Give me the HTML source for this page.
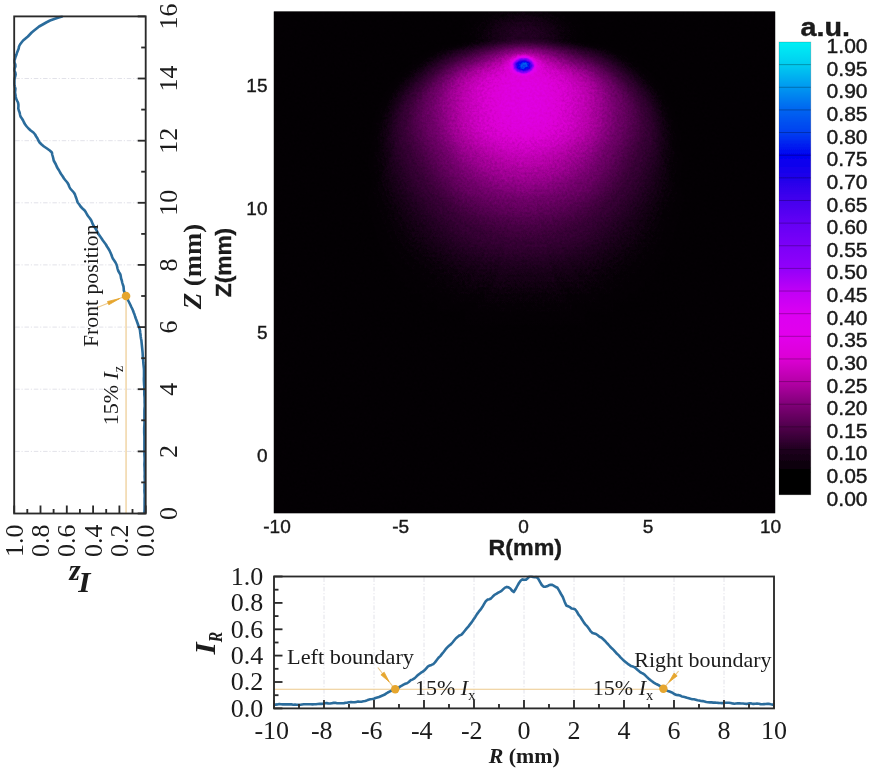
<!DOCTYPE html>
<html lang="en"><head><meta charset="utf-8"><title>Figure</title>
<style>
html,body{margin:0;padding:0;background:#fff;}
body{width:874px;height:772px;overflow:hidden;}
svg{display:block;}
.ts{font-family:"Liberation Serif","Times New Roman",serif;fill:#1a1a1a;}
.ss{font-family:"Liberation Sans",Arial,sans-serif;fill:#1a1a1a;stroke:#1a1a1a;stroke-width:0.4px;}
</style></head><body>
<svg width="874" height="772" viewBox="0 0 874 772">
<defs>
<clipPath id="hc"><rect x="273.8" y="11.4" width="501.40000000000003" height="501.9"/></clipPath>
<clipPath id="lc"><rect x="13.2" y="15.399999999999999" width="133.5" height="499.1"/></clipPath>
<clipPath id="bc"><rect x="273.0" y="575.5" width="502.0" height="133.89999999999998"/></clipPath>
<filter id="b30" x="-50%" y="-50%" width="200%" height="200%"><feGaussianBlur stdDeviation="30"/></filter>
<filter id="b18" x="-50%" y="-50%" width="200%" height="200%"><feGaussianBlur stdDeviation="18"/></filter>
<filter id="b2" x="-50%" y="-50%" width="200%" height="200%"><feGaussianBlur stdDeviation="2.1"/></filter>
<filter id="soft" filterUnits="userSpaceOnUse" x="0" y="0" width="874" height="772"><feGaussianBlur stdDeviation="0.4"/></filter>
<linearGradient id="cb" x1="0" y1="1" x2="0" y2="0">

<stop offset="0.0" stop-color="#000000"/>
<stop offset="0.05" stop-color="#020002"/>
<stop offset="0.1" stop-color="#200020"/>
<stop offset="0.15" stop-color="#50004c"/>
<stop offset="0.2" stop-color="#800078"/>
<stop offset="0.25" stop-color="#b600a8"/>
<stop offset="0.3" stop-color="#dc00d4"/>
<stop offset="0.35" stop-color="#e200ec"/>
<stop offset="0.4" stop-color="#dc00f2"/>
<stop offset="0.45" stop-color="#c000f6"/>
<stop offset="0.5" stop-color="#9200fa"/>
<stop offset="0.55" stop-color="#7c00f8"/>
<stop offset="0.6" stop-color="#6400f5"/>
<stop offset="0.65" stop-color="#4400ee"/>
<stop offset="0.7" stop-color="#2000ea"/>
<stop offset="0.75" stop-color="#0202f0"/>
<stop offset="0.8" stop-color="#0040f0"/>
<stop offset="0.85" stop-color="#0064f0"/>
<stop offset="0.9" stop-color="#0098f0"/>
<stop offset="0.95" stop-color="#00cdf0"/>
<stop offset="1.0" stop-color="#00f0f5"/>
</linearGradient>
</defs>

<rect width="874" height="772" fill="#fff"/>

<g clip-path="url(#hc)">
<rect x="273.8" y="11.4" width="501.40000000000003" height="501.9" fill="#000"/>
<defs><linearGradient id="gxA" gradientUnits="userSpaceOnUse" x1="265.0" y1="0" x2="785.0" y2="0"><stop offset="0" stop-color="#fff" stop-opacity="0"/><stop offset="0.1500" stop-color="#fff" stop-opacity="0.000"/><stop offset="0.1769" stop-color="#fff" stop-opacity="0.020"/><stop offset="0.2019" stop-color="#fff" stop-opacity="0.055"/><stop offset="0.2327" stop-color="#fff" stop-opacity="0.125"/><stop offset="0.2692" stop-color="#fff" stop-opacity="0.250"/><stop offset="0.3077" stop-color="#fff" stop-opacity="0.400"/><stop offset="0.3462" stop-color="#fff" stop-opacity="0.570"/><stop offset="0.3808" stop-color="#fff" stop-opacity="0.735"/><stop offset="0.4231" stop-color="#fff" stop-opacity="0.880"/><stop offset="0.4615" stop-color="#fff" stop-opacity="0.970"/><stop offset="0.5000" stop-color="#fff" stop-opacity="1.000"/><stop offset="0.5385" stop-color="#fff" stop-opacity="0.970"/><stop offset="0.5769" stop-color="#fff" stop-opacity="0.880"/><stop offset="0.6192" stop-color="#fff" stop-opacity="0.735"/><stop offset="0.6538" stop-color="#fff" stop-opacity="0.570"/><stop offset="0.6923" stop-color="#fff" stop-opacity="0.400"/><stop offset="0.7308" stop-color="#fff" stop-opacity="0.250"/><stop offset="0.7673" stop-color="#fff" stop-opacity="0.125"/><stop offset="0.7981" stop-color="#fff" stop-opacity="0.055"/><stop offset="0.8231" stop-color="#fff" stop-opacity="0.020"/><stop offset="0.8500" stop-color="#fff" stop-opacity="0.000"/><stop offset="1" stop-color="#fff" stop-opacity="0"/></linearGradient><linearGradient id="gyA" gradientUnits="userSpaceOnUse" x1="0" y1="11.4" x2="0" y2="513.3"><stop offset="-0.0008" stop-color="#fff" stop-opacity="0.0000"/><stop offset="0.0510" stop-color="#fff" stop-opacity="0.0000"/><stop offset="0.0610" stop-color="#fff" stop-opacity="0.0858"/><stop offset="0.0689" stop-color="#fff" stop-opacity="0.1878"/><stop offset="0.0789" stop-color="#fff" stop-opacity="0.2682"/><stop offset="0.0889" stop-color="#fff" stop-opacity="0.2811"/><stop offset="0.1905" stop-color="#fff" stop-opacity="0.2790"/><stop offset="0.2263" stop-color="#fff" stop-opacity="0.2736"/><stop offset="0.2443" stop-color="#fff" stop-opacity="0.2629"/><stop offset="0.2961" stop-color="#fff" stop-opacity="0.2092"/><stop offset="0.3499" stop-color="#fff" stop-opacity="0.1556"/><stop offset="0.3817" stop-color="#fff" stop-opacity="0.1212"/><stop offset="0.4196" stop-color="#fff" stop-opacity="0.0880"/><stop offset="0.4595" stop-color="#fff" stop-opacity="0.0633"/><stop offset="0.4873" stop-color="#fff" stop-opacity="0.0461"/><stop offset="0.5152" stop-color="#fff" stop-opacity="0.0322"/><stop offset="0.5411" stop-color="#fff" stop-opacity="0.0247"/><stop offset="0.5690" stop-color="#fff" stop-opacity="0.0161"/><stop offset="0.6049" stop-color="#fff" stop-opacity="0.0086"/><stop offset="0.6447" stop-color="#fff" stop-opacity="0.0032"/><stop offset="0.6786" stop-color="#fff" stop-opacity="0.0000"/><stop offset="1.0000" stop-color="#fff" stop-opacity="0.0000"/></linearGradient><mask id="myA" maskUnits="userSpaceOnUse" x="273.8" y="11.4" width="501.40000000000003" height="501.9"><rect x="273.8" y="11.4" width="501.40000000000003" height="501.9" fill="url(#gyA)"/></mask><linearGradient id="gxB" gradientUnits="userSpaceOnUse" x1="265.0" y1="0" x2="785.0" y2="0"><stop offset="0" stop-color="#fff" stop-opacity="0"/><stop offset="0.1442" stop-color="#fff" stop-opacity="0.000"/><stop offset="0.1577" stop-color="#fff" stop-opacity="0.010"/><stop offset="0.1769" stop-color="#fff" stop-opacity="0.050"/><stop offset="0.2019" stop-color="#fff" stop-opacity="0.120"/><stop offset="0.2308" stop-color="#fff" stop-opacity="0.200"/><stop offset="0.2692" stop-color="#fff" stop-opacity="0.306"/><stop offset="0.3269" stop-color="#fff" stop-opacity="0.514"/><stop offset="0.3846" stop-color="#fff" stop-opacity="0.744"/><stop offset="0.4423" stop-color="#fff" stop-opacity="0.929"/><stop offset="0.5000" stop-color="#fff" stop-opacity="1.000"/><stop offset="0.5577" stop-color="#fff" stop-opacity="0.929"/><stop offset="0.6154" stop-color="#fff" stop-opacity="0.744"/><stop offset="0.6731" stop-color="#fff" stop-opacity="0.514"/><stop offset="0.7308" stop-color="#fff" stop-opacity="0.306"/><stop offset="0.7692" stop-color="#fff" stop-opacity="0.200"/><stop offset="0.7981" stop-color="#fff" stop-opacity="0.120"/><stop offset="0.8231" stop-color="#fff" stop-opacity="0.050"/><stop offset="0.8423" stop-color="#fff" stop-opacity="0.010"/><stop offset="0.8558" stop-color="#fff" stop-opacity="0.000"/><stop offset="1" stop-color="#fff" stop-opacity="0"/></linearGradient><linearGradient id="gyB" gradientUnits="userSpaceOnUse" x1="0" y1="11.4" x2="0" y2="513.3"><stop offset="-0.0008" stop-color="#fff" stop-opacity="0.0000"/><stop offset="0.0650" stop-color="#fff" stop-opacity="0.0000"/><stop offset="0.0689" stop-color="#fff" stop-opacity="0.0000"/><stop offset="0.0968" stop-color="#fff" stop-opacity="0.0429"/><stop offset="0.1367" stop-color="#fff" stop-opacity="0.0751"/><stop offset="0.1905" stop-color="#fff" stop-opacity="0.0912"/><stop offset="0.2443" stop-color="#fff" stop-opacity="0.1019"/><stop offset="0.2961" stop-color="#fff" stop-opacity="0.1019"/><stop offset="0.3499" stop-color="#fff" stop-opacity="0.0858"/><stop offset="0.4057" stop-color="#fff" stop-opacity="0.0665"/><stop offset="0.4595" stop-color="#fff" stop-opacity="0.0472"/><stop offset="0.4953" stop-color="#fff" stop-opacity="0.0322"/><stop offset="0.5292" stop-color="#fff" stop-opacity="0.0215"/><stop offset="0.5690" stop-color="#fff" stop-opacity="0.0118"/><stop offset="0.6049" stop-color="#fff" stop-opacity="0.0054"/><stop offset="0.6447" stop-color="#fff" stop-opacity="0.0021"/><stop offset="0.6746" stop-color="#fff" stop-opacity="0.0000"/><stop offset="1.0000" stop-color="#fff" stop-opacity="0.0000"/></linearGradient><mask id="myB" maskUnits="userSpaceOnUse" x="273.8" y="11.4" width="501.40000000000003" height="501.9"><rect x="273.8" y="11.4" width="501.40000000000003" height="501.9" fill="url(#gyB)"/></mask><filter id="bd" filterUnits="userSpaceOnUse" x="193.8" y="-68.6" width="661.4000000000001" height="661.9"><feGaussianBlur stdDeviation="14"/></filter><mask id="dome" maskUnits="userSpaceOnUse" x="273.8" y="11.4" width="501.40000000000003" height="501.9"><g filter="url(#bd)"><path d="M715.5,600 L700.5,230 L685.5,170 L675.5,128 L655.5,97 L621.5,74 L595.5,63 L565.5,58 L525.5,48 L485.5,58 L455.5,63 L429.5,74 L395.5,97 L375.5,128 L365.5,170 L350.5,230 L335.5,600 Z" fill="#fff"/></g></mask><filter id="bt" filterUnits="userSpaceOnUse" x="193.8" y="-68.6" width="661.4000000000001" height="661.9"><feGaussianBlur stdDeviation="18"/></filter><mask id="taper" maskUnits="userSpaceOnUse" x="273.8" y="11.4" width="501.40000000000003" height="501.9"><g filter="url(#bt)"><polygon points="715.0,-40 703.0,150 683.0,190 665.0,215 650.0,247 620.0,277 587.0,300 555.0,315 525.0,322 495.0,315 463.0,300 430.0,277 400.0,247 385.0,215 367.0,190 347.0,150 335.0,-40" fill="#fff"/></g></mask><radialGradient id="halo" cx="0.5" cy="0.5" r="0.5"><stop offset="0.000" stop-color="#fff" stop-opacity="0.100"/><stop offset="0.100" stop-color="#fff" stop-opacity="0.097"/><stop offset="0.200" stop-color="#fff" stop-opacity="0.090"/><stop offset="0.300" stop-color="#fff" stop-opacity="0.079"/><stop offset="0.400" stop-color="#fff" stop-opacity="0.065"/><stop offset="0.500" stop-color="#fff" stop-opacity="0.050"/><stop offset="0.600" stop-color="#fff" stop-opacity="0.036"/><stop offset="0.700" stop-color="#fff" stop-opacity="0.024"/><stop offset="0.800" stop-color="#fff" stop-opacity="0.014"/><stop offset="0.900" stop-color="#fff" stop-opacity="0.006"/><stop offset="1.000" stop-color="#fff" stop-opacity="0.000"/></radialGradient><radialGradient id="topg" cx="0.5" cy="0.5" r="0.5"><stop offset="0.000" stop-color="#fff" stop-opacity="0.040"/><stop offset="0.100" stop-color="#fff" stop-opacity="0.039"/><stop offset="0.200" stop-color="#fff" stop-opacity="0.036"/><stop offset="0.300" stop-color="#fff" stop-opacity="0.031"/><stop offset="0.400" stop-color="#fff" stop-opacity="0.026"/><stop offset="0.500" stop-color="#fff" stop-opacity="0.020"/><stop offset="0.600" stop-color="#fff" stop-opacity="0.014"/><stop offset="0.700" stop-color="#fff" stop-opacity="0.010"/><stop offset="0.800" stop-color="#fff" stop-opacity="0.005"/><stop offset="0.900" stop-color="#fff" stop-opacity="0.002"/><stop offset="1.000" stop-color="#fff" stop-opacity="0.000"/></radialGradient><filter id="cmap" filterUnits="userSpaceOnUse" x="269.8" y="7.4" width="509.40000000000003" height="509.9" color-interpolation-filters="sRGB"><feTurbulence type="fractalNoise" baseFrequency="0.4" numOctaves="2" seed="7" result="n"/><feColorMatrix in="n" type="matrix" values="1 0 0 0 0  1 0 0 0 0  1 0 0 0 0  0 0 0 0 1" result="ng"/><feComposite in="SourceGraphic" in2="ng" operator="arithmetic" k1="0.2" k2="0.9" k3="0" k4="0" result="m"/><feComponentTransfer in="m" result="cm"><feFuncR type="table" tableValues="0.000 0.000 0.000 0.020 0.125 0.220 0.314 0.408 0.502 0.608 0.714 0.788 0.863 0.875 0.886 0.875 0.863 0.808 0.753 0.663 0.573 0.529 0.486 0.439 0.392 0.329 0.267 0.196 0.125 0.067 0.008 0.004 0.000 0.000 0.000 0.000 0.000 0.000 0.000 0.000 0.000"/><feFuncG type="table" tableValues="0.000 0.000 0.000 0.000 0.000 0.000 0.000 0.000 0.000 0.000 0.000 0.000 0.000 0.000 0.000 0.000 0.000 0.000 0.000 0.000 0.000 0.000 0.000 0.000 0.000 0.000 0.000 0.000 0.000 0.004 0.008 0.129 0.251 0.322 0.392 0.494 0.596 0.700 0.804 0.873 0.941"/><feFuncB type="table" tableValues="0.000 0.000 0.000 0.020 0.125 0.212 0.298 0.384 0.471 0.565 0.659 0.745 0.831 0.878 0.925 0.937 0.949 0.957 0.965 0.973 0.980 0.976 0.973 0.967 0.961 0.947 0.933 0.925 0.918 0.929 0.941 0.941 0.941 0.941 0.941 0.941 0.941 0.941 0.941 0.951 0.961"/></feComponentTransfer><feGaussianBlur in="cm" stdDeviation="0.7"/></filter></defs><g filter="url(#cmap)"><rect x="265.8" y="3.4000000000000004" width="517.4000000000001" height="517.9" fill="rgb(17,17,17)"/><g><g mask="url(#dome)"><rect x="273.8" y="11.4" width="501.40000000000003" height="501.9" fill="url(#gxA)" mask="url(#myA)"/></g></g><ellipse cx="523.5" cy="36" rx="70" ry="40" fill="url(#topg)"/><ellipse cx="523.5" cy="64" rx="24" ry="13" fill="url(#halo)"/><g filter="url(#b2)"><ellipse cx="523.5" cy="65.6" rx="10" ry="7" fill="#fff" fill-opacity="0.6"/><ellipse cx="523.8" cy="65.4" rx="4.8" ry="3.4" fill="#fff" fill-opacity="0.42"/></g></g>
</g>

<g filter="url(#soft)">
<text class="ss" x="267.5" y="92.1" font-size="19" text-anchor="end">15</text>
<text class="ss" x="267.5" y="215.4" font-size="19" text-anchor="end">10</text>
<text class="ss" x="267.5" y="338.7" font-size="19" text-anchor="end">5</text>
<text class="ss" x="267.5" y="461.9" font-size="19" text-anchor="end">0</text>
<text class="ss" x="277.0" y="533" font-size="19" text-anchor="middle">-10</text>
<text class="ss" x="400.6" y="533" font-size="19" text-anchor="middle">-5</text>
<text class="ss" x="523.6" y="533" font-size="19" text-anchor="middle">0</text>
<text class="ss" x="648.0" y="533" font-size="19" text-anchor="middle">5</text>
<text class="ss" x="770.5" y="533" font-size="19" text-anchor="middle">10</text>
<text class="ss" x="525.3" y="554.9" font-size="22.5" font-weight="bold" text-anchor="middle" textLength="73.5" lengthAdjust="spacingAndGlyphs">R(mm)</text>
<text class="ss" transform="translate(230.7,262.5) rotate(-90)" font-size="22.7" font-weight="bold" text-anchor="middle">Z(mm)</text>
<rect x="779.0" y="42.0" width="31.799999999999955" height="452.8" fill="url(#cb)"/>
<line x1="779.0" x2="810.8" y1="472.16" y2="472.16" stroke="#000" stroke-opacity="0.28" stroke-width="1"/>
<line x1="779.0" x2="810.8" y1="449.52" y2="449.52" stroke="#000" stroke-opacity="0.28" stroke-width="1"/>
<line x1="779.0" x2="810.8" y1="426.88" y2="426.88" stroke="#000" stroke-opacity="0.28" stroke-width="1"/>
<line x1="779.0" x2="810.8" y1="404.24" y2="404.24" stroke="#000" stroke-opacity="0.28" stroke-width="1"/>
<line x1="779.0" x2="810.8" y1="381.60" y2="381.60" stroke="#000" stroke-opacity="0.28" stroke-width="1"/>
<line x1="779.0" x2="810.8" y1="358.96" y2="358.96" stroke="#000" stroke-opacity="0.28" stroke-width="1"/>
<line x1="779.0" x2="810.8" y1="336.32" y2="336.32" stroke="#000" stroke-opacity="0.28" stroke-width="1"/>
<line x1="779.0" x2="810.8" y1="313.68" y2="313.68" stroke="#000" stroke-opacity="0.28" stroke-width="1"/>
<line x1="779.0" x2="810.8" y1="291.04" y2="291.04" stroke="#000" stroke-opacity="0.28" stroke-width="1"/>
<line x1="779.0" x2="810.8" y1="268.40" y2="268.40" stroke="#000" stroke-opacity="0.28" stroke-width="1"/>
<line x1="779.0" x2="810.8" y1="245.76" y2="245.76" stroke="#000" stroke-opacity="0.28" stroke-width="1"/>
<line x1="779.0" x2="810.8" y1="223.12" y2="223.12" stroke="#000" stroke-opacity="0.28" stroke-width="1"/>
<line x1="779.0" x2="810.8" y1="200.48" y2="200.48" stroke="#000" stroke-opacity="0.28" stroke-width="1"/>
<line x1="779.0" x2="810.8" y1="177.84" y2="177.84" stroke="#000" stroke-opacity="0.28" stroke-width="1"/>
<line x1="779.0" x2="810.8" y1="155.20" y2="155.20" stroke="#000" stroke-opacity="0.28" stroke-width="1"/>
<line x1="779.0" x2="810.8" y1="132.56" y2="132.56" stroke="#000" stroke-opacity="0.28" stroke-width="1"/>
<line x1="779.0" x2="810.8" y1="109.92" y2="109.92" stroke="#000" stroke-opacity="0.28" stroke-width="1"/>
<line x1="779.0" x2="810.8" y1="87.28" y2="87.28" stroke="#000" stroke-opacity="0.28" stroke-width="1"/>
<line x1="779.0" x2="810.8" y1="64.64" y2="64.64" stroke="#000" stroke-opacity="0.28" stroke-width="1"/>
<rect x="779.0" y="42.0" width="31.799999999999955" height="452.8" fill="none" stroke="#000" stroke-opacity="0.2" stroke-width="0.8"/>
<text class="ss" x="826.6" y="53.2" font-size="19.6" textLength="41" lengthAdjust="spacingAndGlyphs">1.00</text>
<text class="ss" x="826.6" y="75.8" font-size="19.6" textLength="41" lengthAdjust="spacingAndGlyphs">0.95</text>
<text class="ss" x="826.6" y="98.4" font-size="19.6" textLength="41" lengthAdjust="spacingAndGlyphs">0.90</text>
<text class="ss" x="826.6" y="121.1" font-size="19.6" textLength="41" lengthAdjust="spacingAndGlyphs">0.85</text>
<text class="ss" x="826.6" y="143.7" font-size="19.6" textLength="41" lengthAdjust="spacingAndGlyphs">0.80</text>
<text class="ss" x="826.6" y="166.3" font-size="19.6" textLength="41" lengthAdjust="spacingAndGlyphs">0.75</text>
<text class="ss" x="826.6" y="188.9" font-size="19.6" textLength="41" lengthAdjust="spacingAndGlyphs">0.70</text>
<text class="ss" x="826.6" y="211.5" font-size="19.6" textLength="41" lengthAdjust="spacingAndGlyphs">0.65</text>
<text class="ss" x="826.6" y="234.2" font-size="19.6" textLength="41" lengthAdjust="spacingAndGlyphs">0.60</text>
<text class="ss" x="826.6" y="256.8" font-size="19.6" textLength="41" lengthAdjust="spacingAndGlyphs">0.55</text>
<text class="ss" x="826.6" y="279.4" font-size="19.6" textLength="41" lengthAdjust="spacingAndGlyphs">0.50</text>
<text class="ss" x="826.6" y="302.0" font-size="19.6" textLength="41" lengthAdjust="spacingAndGlyphs">0.45</text>
<text class="ss" x="826.6" y="324.6" font-size="19.6" textLength="41" lengthAdjust="spacingAndGlyphs">0.40</text>
<text class="ss" x="826.6" y="347.3" font-size="19.6" textLength="41" lengthAdjust="spacingAndGlyphs">0.35</text>
<text class="ss" x="826.6" y="369.9" font-size="19.6" textLength="41" lengthAdjust="spacingAndGlyphs">0.30</text>
<text class="ss" x="826.6" y="392.5" font-size="19.6" textLength="41" lengthAdjust="spacingAndGlyphs">0.25</text>
<text class="ss" x="826.6" y="415.1" font-size="19.6" textLength="41" lengthAdjust="spacingAndGlyphs">0.20</text>
<text class="ss" x="826.6" y="437.7" font-size="19.6" textLength="41" lengthAdjust="spacingAndGlyphs">0.15</text>
<text class="ss" x="826.6" y="460.4" font-size="19.6" textLength="41" lengthAdjust="spacingAndGlyphs">0.10</text>
<text class="ss" x="826.6" y="483.0" font-size="19.6" textLength="41" lengthAdjust="spacingAndGlyphs">0.05</text>
<text class="ss" x="826.6" y="505.6" font-size="19.6" textLength="41" lengthAdjust="spacingAndGlyphs">0.00</text>
<text class="ss" x="800.5" y="35.5" font-size="25" font-weight="bold" textLength="49.5" lengthAdjust="spacingAndGlyphs">a.u.</text>
<line x1="15.2" x2="137.7" y1="451.4" y2="451.4" stroke="#e2e2e9" stroke-width="1" stroke-dasharray="4.5 1.8 1.2 1.8"/>
<line x1="15.2" x2="137.7" y1="389.2" y2="389.2" stroke="#e2e2e9" stroke-width="1" stroke-dasharray="4.5 1.8 1.2 1.8"/>
<line x1="15.2" x2="137.7" y1="327.1" y2="327.1" stroke="#e2e2e9" stroke-width="1" stroke-dasharray="4.5 1.8 1.2 1.8"/>
<line x1="15.2" x2="137.7" y1="264.9" y2="264.9" stroke="#e2e2e9" stroke-width="1" stroke-dasharray="4.5 1.8 1.2 1.8"/>
<line x1="15.2" x2="137.7" y1="202.8" y2="202.8" stroke="#e2e2e9" stroke-width="1" stroke-dasharray="4.5 1.8 1.2 1.8"/>
<line x1="15.2" x2="137.7" y1="140.7" y2="140.7" stroke="#e2e2e9" stroke-width="1" stroke-dasharray="4.5 1.8 1.2 1.8"/>
<line x1="15.2" x2="137.7" y1="78.5" y2="78.5" stroke="#e2e2e9" stroke-width="1" stroke-dasharray="4.5 1.8 1.2 1.8"/>
<line x1="126.05" x2="126.05" y1="296" y2="513.5" stroke="#ecc98c" stroke-width="1.15"/>
<path d="M61.9,16.5 L55.7,18.5 L50.0,20.5 L46.2,22.5 L42.7,24.5 L39.1,26.5 L36.6,28.5 L34.1,30.5 L31.7,32.5 L29.8,34.5 L27.9,36.5 L25.5,38.5 L23.1,40.5 L21.5,42.5 L20.0,44.5 L19.0,46.5 L18.7,48.5 L17.9,50.5 L17.1,52.5 L16.5,54.5 L15.7,56.5 L15.1,58.5 L14.4,60.5 L14.5,62.5 L15.3,64.5 L15.4,66.5 L14.6,68.5 L14.4,70.5 L15.3,72.5 L15.6,74.5 L15.2,76.5 L14.6,78.5 L14.4,80.5 L14.4,82.5 L14.4,84.5 L14.8,86.5 L15.4,88.5 L15.2,90.5 L15.0,92.5 L15.4,94.5 L15.7,96.5 L16.1,98.5 L17.0,100.5 L18.0,102.5 L18.4,104.5 L18.4,106.5 L18.3,108.5 L18.8,110.5 L19.6,112.5 L20.0,114.5 L20.5,116.5 L21.9,118.5 L23.1,120.5 L24.0,122.5 L25.2,124.5 L26.7,126.5 L28.5,128.5 L30.7,130.5 L33.4,132.5 L35.1,134.5 L36.2,136.5 L37.5,138.5 L38.4,140.5 L39.6,142.5 L41.6,144.5 L44.0,146.5 L47.0,148.5 L49.8,150.5 L51.9,152.5 L52.2,154.5 L52.8,156.5 L53.3,158.5 L53.7,160.5 L54.8,162.5 L55.9,164.5 L56.7,166.5 L57.8,168.5 L59.1,170.5 L60.1,172.5 L61.4,174.5 L62.8,176.5 L64.0,178.5 L65.6,180.5 L67.3,182.5 L68.5,184.5 L69.2,186.5 L70.2,188.5 L72.0,190.5 L73.8,192.5 L75.0,194.5 L75.6,196.5 L76.4,198.5 L77.0,200.5 L77.7,202.5 L79.3,204.5 L80.6,206.5 L82.5,208.5 L84.7,210.5 L86.0,212.5 L87.0,214.5 L88.4,216.5 L90.0,218.5 L91.3,220.5 L92.1,222.5 L92.9,224.5 L94.1,226.5 L95.5,228.5 L96.7,230.5 L97.6,232.5 L98.8,234.5 L100.2,236.5 L101.6,238.5 L102.9,240.5 L104.4,242.5 L105.9,244.5 L107.0,246.5 L108.3,248.5 L109.5,250.5 L110.4,252.5 L111.3,254.5 L112.0,256.5 L112.8,258.5 L114.2,260.5 L115.5,262.5 L116.5,264.5 L117.1,266.5 L117.5,268.5 L118.1,270.5 L119.2,272.5 L120.4,274.5 L120.8,276.5 L121.1,278.5 L121.8,280.5 L122.2,282.5 L122.8,284.5 L123.5,286.5 L123.7,288.5 L123.8,290.5 L124.6,292.5 L125.5,294.5 L126.4,296.5 L127.4,298.5 L128.2,300.5 L129.2,302.5 L130.2,304.5 L131.1,306.5 L132.1,308.5 L133.0,310.5 L133.7,312.5 L134.5,314.5 L135.1,316.5 L135.8,318.5 L136.6,320.5 L137.3,322.5 L138.0,324.5 L138.7,326.5 L139.5,328.5 L140.0,330.5 L140.2,332.5 L140.5,334.5 L140.7,336.5 L141.0,338.5 L141.4,340.5 L141.6,342.5 L141.8,344.5 L142.0,346.5 L142.2,348.5 L142.4,350.5 L142.6,352.5 L142.7,354.5 L142.8,356.5 L143.0,358.5 L143.2,360.5 L143.3,362.5 L143.5,364.5 L143.7,366.5 L143.9,368.5 L144.0,370.5 L144.0,372.5 L144.0,374.5 L144.0,376.5 L143.9,378.5 L143.9,380.5 L144.0,382.5 L144.1,384.5 L144.3,386.5 L144.3,388.5 L144.3,390.5 L144.3,392.5 L144.3,394.5 L144.5,396.5 L144.6,398.5 L144.6,400.5 L144.6,402.5 L144.7,404.5 L144.7,406.5 L144.5,408.5 L144.4,410.5 L144.4,412.5 L144.4,414.5 L144.4,416.5 L144.4,418.5 L144.4,420.5 L144.5,422.5 L144.4,424.5 L144.3,426.5 L144.2,428.5 L144.2,430.5 L144.2,432.5 L144.3,434.5 L144.4,436.5 L144.4,438.5 L144.4,440.5 L144.4,442.5 L144.4,444.5 L144.4,446.5 L144.4,448.5 L144.4,450.5 L144.4,452.5 L144.4,454.5 L144.5,456.5 L144.6,458.5 L144.6,460.5 L144.5,462.5 L144.4,464.5 L144.5,466.5 L144.6,468.5 L144.6,470.5 L144.7,472.5 L144.7,474.5 L144.6,476.5 L144.7,478.5 L144.8,480.5 L144.7,482.5 L144.5,484.5 L144.5,486.5 L144.5,488.5 L144.4,490.5 L144.5,492.5 L144.7,494.5 L144.7,496.5 L144.6,498.5 L144.6,500.5 L144.6,502.5 L144.6,504.5 L144.6,506.5 L144.6,508.5 L144.5,510.5 L144.4,512.5" fill="none" stroke="#2c6c9c" stroke-width="2.6" stroke-linejoin="round" stroke-linecap="round" clip-path="url(#lc)"/>
<rect x="14.2" y="16.4" width="131.5" height="497.1" fill="none" stroke="#2b2b2b" stroke-width="1.85"/>
<line x1="137.7" x2="145.7" y1="513.5" y2="513.5" stroke="#2b2b2b" stroke-width="1.85"/>
<line x1="141.2" x2="145.7" y1="482.4" y2="482.4" stroke="#2b2b2b" stroke-width="1.85"/>
<line x1="137.7" x2="145.7" y1="451.4" y2="451.4" stroke="#2b2b2b" stroke-width="1.85"/>
<line x1="141.2" x2="145.7" y1="420.3" y2="420.3" stroke="#2b2b2b" stroke-width="1.85"/>
<line x1="137.7" x2="145.7" y1="389.2" y2="389.2" stroke="#2b2b2b" stroke-width="1.85"/>
<line x1="141.2" x2="145.7" y1="358.2" y2="358.2" stroke="#2b2b2b" stroke-width="1.85"/>
<line x1="137.7" x2="145.7" y1="327.1" y2="327.1" stroke="#2b2b2b" stroke-width="1.85"/>
<line x1="141.2" x2="145.7" y1="296.0" y2="296.0" stroke="#2b2b2b" stroke-width="1.85"/>
<line x1="137.7" x2="145.7" y1="264.9" y2="264.9" stroke="#2b2b2b" stroke-width="1.85"/>
<line x1="141.2" x2="145.7" y1="233.9" y2="233.9" stroke="#2b2b2b" stroke-width="1.85"/>
<line x1="137.7" x2="145.7" y1="202.8" y2="202.8" stroke="#2b2b2b" stroke-width="1.85"/>
<line x1="141.2" x2="145.7" y1="171.7" y2="171.7" stroke="#2b2b2b" stroke-width="1.85"/>
<line x1="137.7" x2="145.7" y1="140.7" y2="140.7" stroke="#2b2b2b" stroke-width="1.85"/>
<line x1="141.2" x2="145.7" y1="109.6" y2="109.6" stroke="#2b2b2b" stroke-width="1.85"/>
<line x1="137.7" x2="145.7" y1="78.5" y2="78.5" stroke="#2b2b2b" stroke-width="1.85"/>
<line x1="141.2" x2="145.7" y1="47.5" y2="47.5" stroke="#2b2b2b" stroke-width="1.85"/>
<line x1="137.7" x2="145.7" y1="16.4" y2="16.4" stroke="#2b2b2b" stroke-width="1.85"/>
<line x1="145.7" x2="145.7" y1="505.5" y2="513.5" stroke="#2b2b2b" stroke-width="1.85"/>
<line x1="132.5" x2="132.5" y1="509.0" y2="513.5" stroke="#2b2b2b" stroke-width="1.85"/>
<line x1="119.4" x2="119.4" y1="505.5" y2="513.5" stroke="#2b2b2b" stroke-width="1.85"/>
<line x1="106.2" x2="106.2" y1="509.0" y2="513.5" stroke="#2b2b2b" stroke-width="1.85"/>
<line x1="93.1" x2="93.1" y1="505.5" y2="513.5" stroke="#2b2b2b" stroke-width="1.85"/>
<line x1="79.9" x2="79.9" y1="509.0" y2="513.5" stroke="#2b2b2b" stroke-width="1.85"/>
<line x1="66.8" x2="66.8" y1="505.5" y2="513.5" stroke="#2b2b2b" stroke-width="1.85"/>
<line x1="53.6" x2="53.6" y1="509.0" y2="513.5" stroke="#2b2b2b" stroke-width="1.85"/>
<line x1="40.5" x2="40.5" y1="505.5" y2="513.5" stroke="#2b2b2b" stroke-width="1.85"/>
<line x1="27.3" x2="27.3" y1="509.0" y2="513.5" stroke="#2b2b2b" stroke-width="1.85"/>
<line x1="14.2" x2="14.2" y1="505.5" y2="513.5" stroke="#2b2b2b" stroke-width="1.85"/>
<text class="ts" transform="translate(177,513.5) rotate(-90)" font-size="26" text-anchor="middle">0</text>
<text class="ts" transform="translate(177,451.4) rotate(-90)" font-size="26" text-anchor="middle">2</text>
<text class="ts" transform="translate(177,389.2) rotate(-90)" font-size="26" text-anchor="middle">4</text>
<text class="ts" transform="translate(177,327.1) rotate(-90)" font-size="26" text-anchor="middle">6</text>
<text class="ts" transform="translate(177,264.9) rotate(-90)" font-size="26" text-anchor="middle">8</text>
<text class="ts" transform="translate(177,202.8) rotate(-90)" font-size="26" text-anchor="middle">10</text>
<text class="ts" transform="translate(177,140.7) rotate(-90)" font-size="26" text-anchor="middle">12</text>
<text class="ts" transform="translate(177,78.5) rotate(-90)" font-size="26" text-anchor="middle">14</text>
<text class="ts" transform="translate(177,16.4) rotate(-90)" font-size="26" text-anchor="middle">16</text>
<text class="ts" transform="translate(154.3,524.5) rotate(-90)" font-size="26" text-anchor="end">0.0</text>
<text class="ts" transform="translate(128.0,524.5) rotate(-90)" font-size="26" text-anchor="end">0.2</text>
<text class="ts" transform="translate(101.7,524.5) rotate(-90)" font-size="26" text-anchor="end">0.4</text>
<text class="ts" transform="translate(75.4,524.5) rotate(-90)" font-size="26" text-anchor="end">0.6</text>
<text class="ts" transform="translate(49.1,524.5) rotate(-90)" font-size="26" text-anchor="end">0.8</text>
<text class="ts" transform="translate(22.8,524.5) rotate(-90)" font-size="26" text-anchor="end">1.0</text>
<text class="ts" transform="translate(85,582.8) rotate(180) scale(1.1,1)" x="0" y="9.4" font-size="28.4" font-weight="bold" font-style="italic" text-anchor="middle">I</text>
<text class="ts" transform="translate(74,572.8) rotate(180) scale(1.0,1)" x="0" y="6.4" font-size="29" font-weight="bold" font-style="italic" text-anchor="middle">z</text>
<text class="ts" transform="translate(200.6,266.5) rotate(-90)" font-size="24.5" font-weight="bold" text-anchor="middle" textLength="85.5" lengthAdjust="spacingAndGlyphs"><tspan font-style="italic">Z</tspan> (mm)</text>
<text class="ts" transform="translate(97.8,347) rotate(-90)" font-size="21.5" textLength="122.5" lengthAdjust="spacingAndGlyphs">Front position</text>
<text class="ts" transform="translate(118.3,425.3) rotate(-90)" font-size="22">15% <tspan font-style="italic">I</tspan><tspan font-size="14.5" dy="4.5">z</tspan></text>
<line x1="98.0" y1="307.2" x2="124.5" y2="296.6" stroke="#ecc98c" stroke-width="1.1"/><path d="M119.7,298.5 L108.8,304.8 L107.5,301.5 Z" fill="#e6a62e" stroke="#e6a62e" stroke-width="0.8" stroke-linejoin="round"/>
<circle cx="126.05" cy="296" r="4.3" fill="#e6a62e"/>
<line x1="324.0" x2="324.0" y1="577.5" y2="699.4" stroke="#e2e2e9" stroke-width="1" stroke-dasharray="4.5 1.8 1.2 1.8"/>
<line x1="374.0" x2="374.0" y1="577.5" y2="699.4" stroke="#e2e2e9" stroke-width="1" stroke-dasharray="4.5 1.8 1.2 1.8"/>
<line x1="424.0" x2="424.0" y1="577.5" y2="699.4" stroke="#e2e2e9" stroke-width="1" stroke-dasharray="4.5 1.8 1.2 1.8"/>
<line x1="474.0" x2="474.0" y1="577.5" y2="699.4" stroke="#e2e2e9" stroke-width="1" stroke-dasharray="4.5 1.8 1.2 1.8"/>
<line x1="524.0" x2="524.0" y1="577.5" y2="699.4" stroke="#e2e2e9" stroke-width="1" stroke-dasharray="4.5 1.8 1.2 1.8"/>
<line x1="574.0" x2="574.0" y1="577.5" y2="699.4" stroke="#e2e2e9" stroke-width="1" stroke-dasharray="4.5 1.8 1.2 1.8"/>
<line x1="624.0" x2="624.0" y1="577.5" y2="699.4" stroke="#e2e2e9" stroke-width="1" stroke-dasharray="4.5 1.8 1.2 1.8"/>
<line x1="674.0" x2="674.0" y1="577.5" y2="699.4" stroke="#e2e2e9" stroke-width="1" stroke-dasharray="4.5 1.8 1.2 1.8"/>
<line x1="724.0" x2="724.0" y1="577.5" y2="699.4" stroke="#e2e2e9" stroke-width="1" stroke-dasharray="4.5 1.8 1.2 1.8"/>
<line x1="274.0" x2="663.5" y1="689.2" y2="689.2" stroke="#ecc98c" stroke-width="1.15"/>
<path d="M274.0,704.6 L275.8,704.6 L277.5,704.4 L279.2,704.0 L281.0,704.2 L282.8,704.4 L284.5,704.4 L286.3,704.4 L288.0,704.4 L289.8,704.3 L291.5,704.4 L293.3,704.7 L295.0,704.6 L296.8,704.7 L298.5,704.8 L300.3,704.7 L302.0,704.5 L303.8,704.3 L305.5,704.2 L307.3,704.2 L309.0,704.2 L310.8,704.3 L312.5,704.4 L314.3,704.3 L316.0,704.2 L317.8,704.0 L319.5,703.9 L321.3,703.9 L323.0,703.8 L324.8,703.3 L326.5,703.1 L328.3,703.4 L330.0,703.5 L331.8,703.2 L333.5,702.9 L335.3,702.8 L337.0,703.2 L338.8,703.3 L340.5,703.3 L342.3,703.3 L344.0,703.1 L345.8,702.8 L347.5,702.6 L349.3,702.2 L351.0,702.1 L352.8,702.3 L354.5,702.3 L356.3,701.9 L358.0,701.5 L359.8,701.7 L361.5,701.7 L363.3,701.3 L365.0,700.9 L366.8,700.4 L368.5,699.7 L370.3,699.2 L372.0,699.0 L373.8,698.7 L375.5,698.0 L377.3,697.5 L379.0,697.0 L380.8,696.2 L382.5,695.5 L384.3,694.8 L386.0,693.7 L387.8,692.5 L389.5,691.6 L391.3,690.8 L393.0,690.2 L394.8,690.0 L396.5,689.4 L398.3,687.9 L400.0,686.6 L401.8,685.6 L403.5,684.6 L405.3,683.8 L407.0,683.3 L408.8,682.0 L410.5,680.3 L412.3,679.6 L414.0,678.7 L415.8,677.1 L417.5,675.4 L419.3,674.0 L421.0,672.7 L422.8,671.6 L424.5,670.3 L426.3,668.3 L428.0,666.4 L429.8,665.5 L431.5,664.9 L433.3,664.1 L435.0,662.4 L436.8,660.0 L438.5,657.8 L440.3,656.1 L442.0,653.9 L443.8,651.7 L445.5,649.4 L447.3,647.4 L449.0,645.8 L450.8,644.4 L452.5,642.5 L454.3,640.3 L456.0,638.2 L457.8,636.7 L459.5,635.4 L461.3,634.8 L463.0,633.0 L464.8,630.7 L466.5,628.6 L468.3,626.6 L470.0,624.4 L471.8,622.1 L473.5,619.5 L475.3,616.9 L477.0,614.1 L478.8,611.7 L480.5,609.7 L482.3,607.1 L484.0,604.2 L485.8,601.2 L487.5,599.6 L489.3,599.3 L491.0,598.5 L492.8,596.5 L494.5,594.8 L496.3,593.9 L498.0,592.7 L499.8,591.9 L501.5,590.9 L503.3,589.1 L505.0,587.6 L506.8,586.9 L508.5,587.3 L510.3,588.5 L512.0,590.6 L513.8,592.0 L515.5,589.3 L517.3,586.0 L519.0,583.0 L520.8,580.5 L522.5,579.4 L524.3,579.8 L526.0,579.6 L527.8,578.2 L529.5,576.5 L531.3,576.5 L533.0,577.0 L534.8,577.3 L536.5,577.1 L538.3,578.8 L540.0,581.9 L541.8,585.0 L543.5,586.7 L545.3,586.7 L547.0,586.3 L548.8,585.3 L550.5,584.8 L552.3,584.9 L554.0,585.8 L555.8,587.0 L557.5,587.8 L559.3,590.9 L561.0,594.0 L562.8,597.0 L564.5,601.4 L566.3,605.5 L568.0,606.2 L569.8,607.1 L571.5,608.5 L573.3,608.7 L575.0,609.2 L576.8,611.5 L578.5,614.6 L580.3,616.8 L582.0,619.5 L583.8,622.4 L585.5,624.6 L587.3,626.4 L589.0,628.8 L590.8,631.4 L592.5,633.0 L594.3,633.5 L596.0,634.0 L597.8,635.3 L599.5,636.7 L601.3,637.5 L603.0,639.0 L604.8,640.7 L606.5,642.6 L608.3,644.5 L610.0,646.5 L611.8,648.3 L613.5,649.9 L615.3,651.9 L617.0,653.8 L618.8,655.4 L620.5,657.3 L622.3,659.1 L624.0,660.7 L625.8,662.2 L627.5,663.6 L629.3,664.8 L631.0,666.1 L632.8,666.6 L634.5,667.2 L636.3,668.7 L638.0,670.3 L639.8,671.8 L641.5,672.9 L643.3,673.7 L645.0,675.1 L646.8,676.9 L648.5,678.5 L650.3,680.0 L652.0,681.3 L653.8,682.6 L655.5,683.6 L657.3,684.5 L659.0,685.4 L660.8,686.7 L662.5,688.2 L664.3,689.5 L666.0,690.2 L667.8,690.9 L669.5,691.5 L671.3,692.2 L673.0,693.2 L674.8,694.3 L676.5,695.0 L678.3,695.1 L680.0,695.5 L681.8,696.4 L683.5,696.8 L685.3,697.2 L687.0,697.8 L688.8,698.2 L690.5,698.8 L692.3,699.3 L694.0,699.3 L695.8,699.7 L697.5,700.2 L699.3,700.6 L701.0,701.0 L702.8,701.1 L704.5,701.5 L706.3,702.0 L708.0,702.3 L709.8,702.4 L711.5,702.4 L713.3,702.6 L715.0,702.6 L716.8,702.7 L718.5,702.9 L720.3,703.0 L722.0,703.1 L723.8,703.0 L725.5,702.8 L727.3,702.8 L729.0,702.8 L730.8,703.0 L732.5,703.4 L734.3,703.7 L736.0,703.5 L737.8,703.3 L739.5,703.4 L741.3,703.5 L743.0,703.5 L744.8,703.8 L746.5,703.9 L748.3,703.5 L750.0,703.2 L751.8,703.6 L753.5,703.9 L755.3,703.8 L757.0,703.6 L758.8,703.8 L760.5,704.1 L762.3,704.2 L764.0,704.1 L765.8,704.0 L767.5,703.7 L769.3,703.9 L771.0,704.3 L772.8,704.6" fill="none" stroke="#2c6c9c" stroke-width="2.6" stroke-linejoin="round" stroke-linecap="round" clip-path="url(#bc)"/>
<rect x="274.0" y="576.5" width="500.0" height="131.89999999999998" fill="none" stroke="#2b2b2b" stroke-width="1.85"/>
<line x1="274.0" x2="274.0" y1="699.9" y2="708.4" stroke="#2b2b2b" stroke-width="1.85"/>
<line x1="299.0" x2="299.0" y1="703.9" y2="708.4" stroke="#2b2b2b" stroke-width="1.85"/>
<line x1="324.0" x2="324.0" y1="699.9" y2="708.4" stroke="#2b2b2b" stroke-width="1.85"/>
<line x1="349.0" x2="349.0" y1="703.9" y2="708.4" stroke="#2b2b2b" stroke-width="1.85"/>
<line x1="374.0" x2="374.0" y1="699.9" y2="708.4" stroke="#2b2b2b" stroke-width="1.85"/>
<line x1="399.0" x2="399.0" y1="703.9" y2="708.4" stroke="#2b2b2b" stroke-width="1.85"/>
<line x1="424.0" x2="424.0" y1="699.9" y2="708.4" stroke="#2b2b2b" stroke-width="1.85"/>
<line x1="449.0" x2="449.0" y1="703.9" y2="708.4" stroke="#2b2b2b" stroke-width="1.85"/>
<line x1="474.0" x2="474.0" y1="699.9" y2="708.4" stroke="#2b2b2b" stroke-width="1.85"/>
<line x1="499.0" x2="499.0" y1="703.9" y2="708.4" stroke="#2b2b2b" stroke-width="1.85"/>
<line x1="524.0" x2="524.0" y1="699.9" y2="708.4" stroke="#2b2b2b" stroke-width="1.85"/>
<line x1="549.0" x2="549.0" y1="703.9" y2="708.4" stroke="#2b2b2b" stroke-width="1.85"/>
<line x1="574.0" x2="574.0" y1="699.9" y2="708.4" stroke="#2b2b2b" stroke-width="1.85"/>
<line x1="599.0" x2="599.0" y1="703.9" y2="708.4" stroke="#2b2b2b" stroke-width="1.85"/>
<line x1="624.0" x2="624.0" y1="699.9" y2="708.4" stroke="#2b2b2b" stroke-width="1.85"/>
<line x1="649.0" x2="649.0" y1="703.9" y2="708.4" stroke="#2b2b2b" stroke-width="1.85"/>
<line x1="674.0" x2="674.0" y1="699.9" y2="708.4" stroke="#2b2b2b" stroke-width="1.85"/>
<line x1="699.0" x2="699.0" y1="703.9" y2="708.4" stroke="#2b2b2b" stroke-width="1.85"/>
<line x1="724.0" x2="724.0" y1="699.9" y2="708.4" stroke="#2b2b2b" stroke-width="1.85"/>
<line x1="749.0" x2="749.0" y1="703.9" y2="708.4" stroke="#2b2b2b" stroke-width="1.85"/>
<line x1="774.0" x2="774.0" y1="699.9" y2="708.4" stroke="#2b2b2b" stroke-width="1.85"/>
<line x1="274.0" x2="282.5" y1="708.4" y2="708.4" stroke="#2b2b2b" stroke-width="1.85"/>
<line x1="274.0" x2="278.5" y1="695.2" y2="695.2" stroke="#2b2b2b" stroke-width="1.85"/>
<line x1="274.0" x2="282.5" y1="682.0" y2="682.0" stroke="#2b2b2b" stroke-width="1.85"/>
<line x1="274.0" x2="278.5" y1="668.8" y2="668.8" stroke="#2b2b2b" stroke-width="1.85"/>
<line x1="274.0" x2="282.5" y1="655.6" y2="655.6" stroke="#2b2b2b" stroke-width="1.85"/>
<line x1="274.0" x2="278.5" y1="642.5" y2="642.5" stroke="#2b2b2b" stroke-width="1.85"/>
<line x1="274.0" x2="282.5" y1="629.3" y2="629.3" stroke="#2b2b2b" stroke-width="1.85"/>
<line x1="274.0" x2="278.5" y1="616.1" y2="616.1" stroke="#2b2b2b" stroke-width="1.85"/>
<line x1="274.0" x2="282.5" y1="602.9" y2="602.9" stroke="#2b2b2b" stroke-width="1.85"/>
<line x1="274.0" x2="278.5" y1="589.7" y2="589.7" stroke="#2b2b2b" stroke-width="1.85"/>
<line x1="274.0" x2="282.5" y1="576.5" y2="576.5" stroke="#2b2b2b" stroke-width="1.85"/>
<text class="ts" x="263.3" y="716.8" font-size="26" text-anchor="end">0.0</text>
<text class="ts" x="263.3" y="690.4" font-size="26" text-anchor="end">0.2</text>
<text class="ts" x="263.3" y="664.0" font-size="26" text-anchor="end">0.4</text>
<text class="ts" x="263.3" y="637.7" font-size="26" text-anchor="end">0.6</text>
<text class="ts" x="263.3" y="611.3" font-size="26" text-anchor="end">0.8</text>
<text class="ts" x="263.3" y="584.9" font-size="26" text-anchor="end">1.0</text>
<text class="ts" x="271.8" y="739.4" font-size="26" text-anchor="middle">-10</text>
<text class="ts" x="321.8" y="739.4" font-size="26" text-anchor="middle">-8</text>
<text class="ts" x="371.8" y="739.4" font-size="26" text-anchor="middle">-6</text>
<text class="ts" x="421.8" y="739.4" font-size="26" text-anchor="middle">-4</text>
<text class="ts" x="471.8" y="739.4" font-size="26" text-anchor="middle">-2</text>
<text class="ts" x="524.0" y="739.4" font-size="26" text-anchor="middle">0</text>
<text class="ts" x="574.0" y="739.4" font-size="26" text-anchor="middle">2</text>
<text class="ts" x="624.0" y="739.4" font-size="26" text-anchor="middle">4</text>
<text class="ts" x="674.0" y="739.4" font-size="26" text-anchor="middle">6</text>
<text class="ts" x="724.0" y="739.4" font-size="26" text-anchor="middle">8</text>
<text class="ts" x="774.0" y="739.4" font-size="26" text-anchor="middle">10</text>
<text class="ts" x="524.3" y="763.2" font-size="21.5" font-weight="bold" text-anchor="middle" textLength="71" lengthAdjust="spacingAndGlyphs"><tspan font-style="italic">R</tspan> (mm)</text>
<text class="ts" transform="translate(205.2,648.3) rotate(-90) scale(1.1,1)" x="0" y="9.4" font-size="28.4" font-weight="bold" font-style="italic" text-anchor="middle">I</text>
<text class="ts" transform="translate(215.5,636.9) rotate(-90) scale(0.85,1)" x="0" y="6.1" font-size="18.5" font-weight="bold" font-style="italic" text-anchor="middle">R</text>
<text class="ts" x="287" y="664.3" font-size="21" textLength="127" lengthAdjust="spacingAndGlyphs">Left boundary</text>
<text class="ts" x="634.3" y="666.8" font-size="20.6" textLength="137.3" lengthAdjust="spacingAndGlyphs">Right boundary</text>
<text class="ts" x="415" y="695.2" font-size="22">15% <tspan font-style="italic">I</tspan><tspan font-size="14.5" dy="4.5">x</tspan></text>
<text class="ts" x="592.8" y="695.4" font-size="22">15% <tspan font-style="italic">I</tspan><tspan font-size="14.5" dy="4.5">x</tspan></text>
<line x1="377.8" y1="667.5" x2="394.0" y2="687.8" stroke="#ecc98c" stroke-width="1.1"/><path d="M389.1,681.7 L380.9,674.8 L384.2,672.2 Z" fill="#e6a62e" stroke="#e6a62e" stroke-width="0.8" stroke-linejoin="round"/>
<circle cx="395.2" cy="689.3" r="4.2" fill="#e6a62e"/>
<line x1="678.6" y1="671.1" x2="664.5" y2="687.2" stroke="#ecc98c" stroke-width="1.1"/><path d="M668.7,682.4 L674.1,673.1 L677.2,675.9 Z" fill="#e6a62e" stroke="#e6a62e" stroke-width="0.8" stroke-linejoin="round"/>
<circle cx="663.4" cy="688.8" r="4.2" fill="#e6a62e"/>
</g>
</svg></body></html>
